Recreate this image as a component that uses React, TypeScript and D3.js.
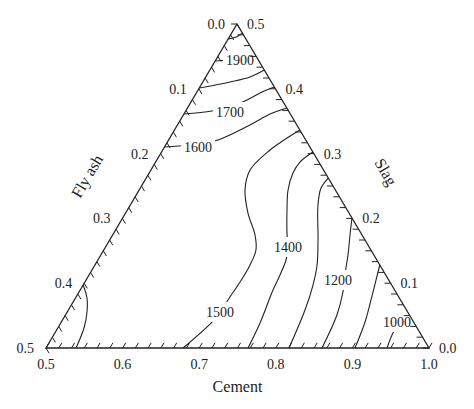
import React from "react";
import * as d3 from "d3";

const W = 474;
const H = 409;

// Axis tick labels
const cementTicks = [0.5, 0.6, 0.7, 0.8, 0.9, 1.0];
const flyAshTicks = [0.0, 0.1, 0.2, 0.3, 0.4, 0.5];
const slagTicks = [0.5, 0.4, 0.3, 0.2, 0.1, 0.0];

// Contour lines as [cement, slag] pairs (fly ash = 1 - cement - slag)
const contour2000 = [[0.5, 0.477], [0.509, 0.48], [0.514, 0.486]];
const contour1900 = [[0.5, 0.443], [0.526, 0.446], [0.549, 0.451]];
const contour1800 = [[0.5, 0.4012], [0.5355, 0.4105], [0.5577, 0.4182], [0.571, 0.429]];
const contour1700 = [[0.5, 0.3611], [0.534, 0.3657], [0.5547, 0.3719], [0.5716, 0.3827], [0.585, 0.395], [0.597, 0.4028]];
const contour1600 = [[0.5, 0.3102], [0.517, 0.3117], [0.5414, 0.3148], [0.5645, 0.321], [0.5946, 0.344], [0.6124, 0.3611], [0.6296, 0.3704]];
const contour1500 = [[0.6636, 0.3364], [0.6507, 0.321], [0.6401, 0.3056], [0.6294, 0.2747], [0.6382, 0.2438], [0.6598, 0.2083], [0.6859, 0.1744], [0.6987, 0.1512], [0.7025, 0.1281], [0.7025, 0.1019], [0.7009, 0.0787], [0.6995, 0.0556], [0.6967, 0.0401], [0.6789, 0]];
const contour1400 = [[0.6975, 0.3025], [0.6884, 0.287], [0.6877, 0.2701], [0.6944, 0.2438], [0.7084, 0.213], [0.7261, 0.1775], [0.7382, 0.1559], [0.7456, 0.1358], [0.7493, 0.1127], [0.7517, 0.0895], [0.7602, 0.0386], [0.7637, 0]];
const contour1300 = [[0.7377, 0.2623], [0.7359, 0.2469], [0.745, 0.2207], [0.772, 0.1667], [0.79, 0.1281], [0.8001, 0.0972], [0.8089, 0.0586], [0.8172, 0]];
const contour1200 = [[0.7994, 0.2006], [0.8099, 0.1744], [0.8227, 0.1435], [0.83, 0.1235], [0.8446, 0.0864], [0.8544, 0.0509], [0.8603, 0]];
const contour1100 = [[0.8719, 0.1281], [0.8785, 0.1049], [0.8873, 0.0741], [0.8965, 0.0401], [0.9034, 0]];
const contour1000 = [[0.9506, 0.0494], [0.9426, 0.034], [0.9415, 0.0231], [0.9452, 0]];
const contourLow = [[0.5, 0.0972], [0.515, 0.0772], [0.5258, 0.0556], [0.5342, 0.0309], [0.5392, 0]];

const contours = [contour2000, contour1900, contour1800, contour1700, contour1600, contour1500, contour1400, contour1300, contour1200, contour1100, contour1000, contourLow];

// Contour labels
const labelText = ["1900", "1700", "1600", "1500", "1400", "1200", "1000"];
const labelCement = [0.5316, 0.5586, 0.5437, 0.6995, 0.7382, 0.8289, 0.9383];
const labelSlag = [0.4444, 0.364, 0.3102, 0.0556, 0.1559, 0.1049, 0.0401];

const BL = [46, 348];
const BR = [429, 348];
const TOP = [237, 24];

const xC = d3.scaleLinear().domain([0.5, 1]).range([BL[0], BR[0]]);
const yS = d3.scaleLinear().domain([0, 0.5]).range([BL[1], TOP[1]]);
const proj = (c: number, s: number): [number, number] => [xC(c) + (s / 0.5) * (TOP[0] - BL[0]), yS(s)];

const unit = (a: number[], b: number[]) => {
  const dx = b[0] - a[0], dy = b[1] - a[1];
  const l = Math.hypot(dx, dy);
  return [dx / l, dy / l];
};

const FONT = "'Liberation Serif', 'Times New Roman', serif";
const INK = "#222";

export default function App() {
  const line = d3
    .line<number[]>()
    .x((d) => proj(d[0], d[1])[0])
    .y((d) => proj(d[0], d[1])[1])
    .curve(d3.curveCatmullRom.alpha(0.5));

  const TL = 6;
  const dirC = unit(BL, TOP);
  const dirF = unit(TOP, BR);
  const minor = d3.range(0, 31).map((i) => i / 60);

  const ticks: { x1: number; y1: number; x2: number; y2: number }[] = [];
  minor.forEach((t) => {
    const [x, y] = proj(0.5 + t, 0);
    ticks.push({ x1: x, y1: y, x2: x + dirC[0] * TL, y2: y + dirC[1] * TL });
  });
  minor.forEach((f) => {
    const [x, y] = proj(0.5, 0.5 - f);
    ticks.push({ x1: x, y1: y, x2: x + dirF[0] * TL, y2: y + dirF[1] * TL });
  });
  minor.forEach((s) => {
    const [x, y] = proj(1 - s, s);
    ticks.push({ x1: x, y1: y, x2: x - TL, y2: y });
  });

  return (
    <svg width={W} height={H} style={{ position: "absolute", left: 0, top: 0, background: "#fff" }}>
      <rect x={0} y={0} width={W} height={H} fill="#fff" />
      {contours.map((c, i) => (
        <path key={i} d={line(c) || ""} fill="none" stroke={INK} strokeWidth={1.1} />
      ))}
      {labelText.map((t, i) => {
        const [x, y] = proj(labelCement[i], labelSlag[i]);
        return (
          <g key={t}>
            <rect x={x - 17} y={y - 10} width={34} height={20} fill="#fff" />
            <text x={x} y={y} dy="0.35em" textAnchor="middle" fontFamily={FONT} fontSize={14} fill={INK}>
              {t}
            </text>
          </g>
        );
      })}
      <path
        d={`M${BL[0]},${BL[1]}L${BR[0]},${BR[1]}L${TOP[0]},${TOP[1]}Z`}
        fill="none"
        stroke={INK}
        strokeWidth={1.3}
        strokeLinejoin="miter"
      />
      {ticks.map((t, i) => (
        <line key={i} {...t} stroke={INK} strokeWidth={1} />
      ))}
      {cementTicks.map((c) => {
        const [x, y] = proj(c, 0);
        return (
          <text key={"c" + c} x={x} y={y + 21} textAnchor="middle" fontFamily={FONT} fontSize={14} fill={INK}>
            {c.toFixed(1)}
          </text>
        );
      })}
      {flyAshTicks.map((f) => {
        const [x, y] = proj(0.5, 0.5 - f);
        return (
          <text key={"f" + f} x={x - 12} y={y + 5} textAnchor="end" fontFamily={FONT} fontSize={14} fill={INK}>
            {f.toFixed(1)}
          </text>
        );
      })}
      {slagTicks.map((s) => {
        const [x, y] = proj(1 - s, s);
        return (
          <text key={"s" + s} x={x + 10} y={y + 5} textAnchor="start" fontFamily={FONT} fontSize={14} fill={INK}>
            {s.toFixed(1)}
          </text>
        );
      })}
      <text x={237.5} y={392} textAnchor="middle" fontFamily={FONT} fontSize={16} fill={INK}>
        Cement
      </text>
      <text
        transform="translate(87,176) rotate(-59.5)"
        dy="0.35em"
        textAnchor="middle"
        fontFamily={FONT}
        fontSize={16}
        fill={INK}
      >
        Fly ash
      </text>
      <text
        transform="translate(386,172) rotate(59.5)"
        dy="0.35em"
        textAnchor="middle"
        fontFamily={FONT}
        fontSize={16}
        fill={INK}
      >
        Slag
      </text>
    </svg>
  );
}
